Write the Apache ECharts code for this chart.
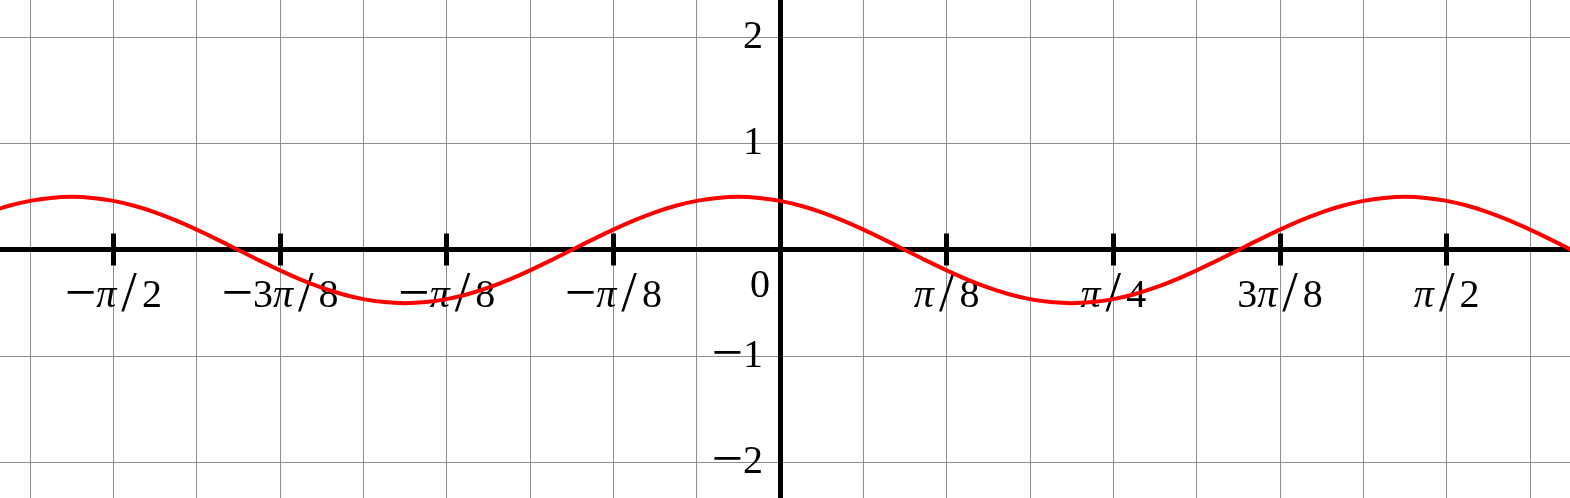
<!DOCTYPE html>
<html>
<head>
<meta charset="utf-8">
<title>curve</title>
<script src="https://cdn.jsdelivr.net/npm/echarts@6.0.0/dist/echarts.min.js"></script>
<style>
  html, body { margin: 0; padding: 0; background: #fff; }
  #chart { width: 1570px; height: 498px; }
</style>
</head>
<body>
<div id="chart"></div>
<script>
var xSteps = [
  -10, -9.75, -9.5, -9.25, -9, -8.75, -8.5, -8.25, -8, -7.75, -7.5, -7.25, -7, -6.75, -6.5, -6.25,
  -6, -5.75, -5.5, -5.25, -5, -4.75, -4.5, -4.25, -4, -3.75, -3.5, -3.25, -3, -2.75, -2.5, -2.25,
  -2, -1.75, -1.5, -1.25, -1, -0.75, -0.5, -0.25, 0, 0.25, 0.5, 0.75, 1, 1.25, 1.5, 1.75,
  2, 2.25, 2.5, 2.75, 3, 3.25, 3.5, 3.75, 4, 4.25, 4.5, 4.75, 5, 5.25, 5.5, 5.75,
  6, 6.25, 6.5, 6.75, 7, 7.25, 7.5, 7.75, 8, 8.25, 8.5, 8.75, 9, 9.25, 9.5, 9.75, 10
];
var yValues = [
  0.191, 0.278, 0.354, 0.416, 0.462, 0.490, 0.500, 0.490, 0.462, 0.416, 0.354, 0.278, 0.191, 0.098, 0.000, -0.098,
  -0.191, -0.278, -0.354, -0.416, -0.462, -0.490, -0.500, -0.490, -0.462, -0.416, -0.354, -0.278, -0.191, -0.098, 0.000, 0.098,
  0.191, 0.278, 0.354, 0.416, 0.462, 0.490, 0.500, 0.490, 0.462, 0.416, 0.354, 0.278, 0.191, 0.098, 0.000, -0.098,
  -0.191, -0.278, -0.354, -0.416, -0.462, -0.490, -0.500, -0.490, -0.462, -0.416, -0.354, -0.278, -0.191, -0.098, 0.000, 0.098,
  0.191, 0.278, 0.354, 0.416, 0.462, 0.490, 0.500, 0.490, 0.462, 0.416, 0.354, 0.278, 0.191, 0.098, 0.000, -0.098, -0.191
];

var tickSteps = [-8, -6, -4, -2, 0, 2, 4, 6, 8];
var tickLabels = ['−π/2', '−3π/8', '−π/8', '−π/8', '0', 'π/8', 'π/4', '3π/8', 'π/2'];
var yTicks = [-2, -1, 1, 2];
var yLabels = ['−2', '−1', '1', '2'];

var serif = 'Liberation Serif';
var rich = {
  t: { fontFamily: serif, fontSize: 40, lineHeight: 38, color: '#000' },
  p: { fontFamily: serif, fontStyle: 'italic', fontSize: 40, lineHeight: 38, color: '#000' },
  m: { fontFamily: serif, fontSize: 56, lineHeight: 38, color: '#000' },
  s: { fontFamily: serif, fontSize: 56, lineHeight: 38, padding: [0, 5, 0, 5], color: '#000' },
  z: { fontFamily: serif, fontSize: 40, lineHeight: 18, padding: [0, 40, 0, 0], color: '#000' }
};

function toRich(text) {
  var out = '';
  for (var i = 0; i < text.length; i++) {
    var c = text.charAt(i);
    if (c === '−') out += '{m|−}';
    else if (c === '/') out += '{s|/}';
    else if (c === 'π') out += '{p|π}';
    else out += '{t|' + c + '}';
  }
  return out;
}

function num(v) {
  return (v !== null && typeof v === 'object') ? +v.value : +v;
}

var points = xSteps.map(function (x, i) { return [x, yValues[i]]; });

var gridColor = '#8f8f8f';
var hidden = {
  axisLine: { show: false }, axisTick: { show: false },
  axisLabel: { show: false }, splitLine: { show: false }
};

var myChart = echarts.init(document.getElementById('chart'), null, { renderer: 'canvas' });

var option = {
  backgroundColor: '#fff',
  animation: false,
  // 0: plot area (reaches past the canvas), 1: holds the x axis at y = 0, 2: holds the y axis at x = 0
  grid: [
    { left: -53.33, right: -43.33, top: -69, bottom: -71, containLabel: false, outerBoundsMode: 'none' },
    { left: -53.33, right: -43.33, top: -69, bottom: 248.5, containLabel: false, outerBoundsMode: 'none' },
    { left: 780, right: -43.33, top: -69, bottom: -71, containLabel: false, outerBoundsMode: 'none' }
  ],
  xAxis: [
    Object.assign({}, hidden, {
      gridIndex: 0, type: 'value', min: -10, max: 10, interval: 1,
      splitLine: { show: true, lineStyle: { color: gridColor, width: 1 } }
    }),
    {
      gridIndex: 1, type: 'value', position: 'bottom', min: -10, max: 10, interval: 2,
      axisLine: { show: true, onZero: false, lineStyle: { color: '#000', width: 5 } },
      axisTick: { show: true, inside: false, length: 16, lineStyle: { color: '#000', width: 5 } },
      axisLabel: {
        show: true, margin: 28, rich: rich, hideOverlap: false,
        formatter: function (v) {
          var k = tickSteps.indexOf(Math.round(num(v)));
          if (k < 0) return '';
          if (tickLabels[k] === '0') return '{z|0}';
          return toRich(tickLabels[k]);
        }
      },
      splitLine: { show: false }
    },
    {
      gridIndex: 1, type: 'value', position: 'bottom', min: -10, max: 10, interval: 2,
      axisLine: { show: false, onZero: false },
      axisTick: { show: true, inside: true, length: 16, lineStyle: { color: '#000', width: 5 } },
      axisLabel: { show: false },
      splitLine: { show: false }
    },
    Object.assign({}, hidden, { gridIndex: 2, type: 'value', min: 0, max: 10 })
  ],
  yAxis: [
    Object.assign({}, hidden, {
      gridIndex: 0, type: 'value', min: -3, max: 3, interval: 1,
      splitLine: { show: true, lineStyle: { color: gridColor, width: 1 } }
    }),
    Object.assign({}, hidden, { gridIndex: 1, type: 'value', min: 0, max: 3 }),
    {
      gridIndex: 2, type: 'value', position: 'left', min: -3, max: 3, interval: 1,
      axisLine: { show: true, onZero: false, lineStyle: { color: '#000', width: 5 } },
      axisTick: { show: false },
      axisLabel: {
        show: true, margin: 17, rich: rich, hideOverlap: false,
        formatter: function (v) {
          var k = yTicks.indexOf(Math.round(num(v)));
          return k < 0 ? '' : toRich(yLabels[k]);
        }
      },
      splitLine: { show: false }
    }
  ],
  series: [
    {
      type: 'line',
      xAxisIndex: 0,
      yAxisIndex: 0,
      data: points,
      smooth: 0.3,
      showSymbol: false,
      z: 5,
      lineStyle: { color: '#ff0000', width: 4 },
      itemStyle: { color: '#ff0000' }
    }
  ]
};

myChart.setOption(option);
window.addEventListener('resize', myChart.resize);
</script>
</body>
</html>
